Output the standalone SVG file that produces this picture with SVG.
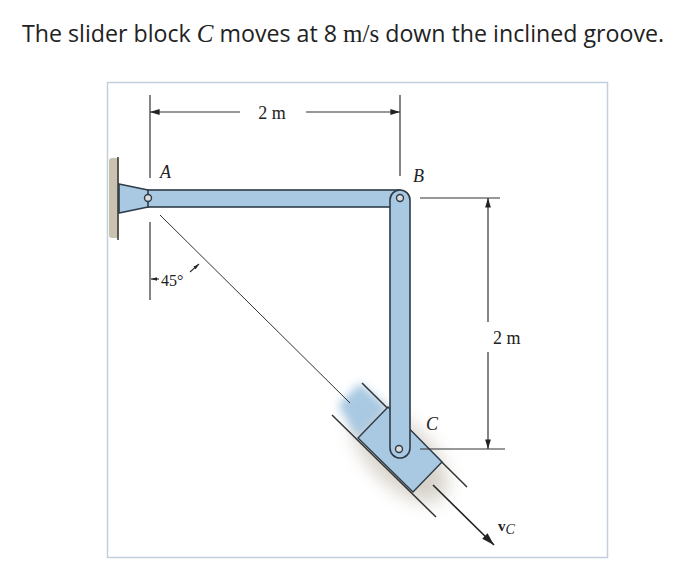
<svg xmlns="http://www.w3.org/2000/svg" width="700" height="572" viewBox="0 0 700 572">
<style>
.t{font-family:"Liberation Serif",serif;fill:#222}
.i{font-style:italic}
.dim{stroke:#333;stroke-width:1.2;fill:none}
.bar{fill:#a9c9e2;stroke:#2d3b48;stroke-width:1.6}
</style>
<defs>
<marker id="ar" viewBox="0 0 10 10" refX="10" refY="5" markerWidth="8" markerHeight="8" orient="auto-start-reverse"><path d="M0,2 L10,5 L0,8 z" fill="#222"/></marker>
<marker id="sm" viewBox="0 0 10 10" refX="10" refY="5" markerWidth="5" markerHeight="5" orient="auto-start-reverse"><path d="M0,2 L10,5 L0,8 z" fill="#222"/></marker>
<filter id="bl" x="-50%" y="-50%" width="200%" height="200%"><feGaussianBlur stdDeviation="9"/></filter>
<filter id="bl2" x="-50%" y="-50%" width="200%" height="200%"><feGaussianBlur stdDeviation="4"/></filter>
</defs>
<rect width="700" height="572" fill="#fff"/>
<text x="22" y="42" font-family="'Open Sans','Liberation Sans',sans-serif" font-size="23.2" fill="#222">The slider block <tspan font-family="'Liberation Serif',serif" font-style="italic" font-size="25">C</tspan> moves at 8 <tspan font-family="'Liberation Serif',serif" font-size="25">m/s</tspan> down the inclined groove.</text>
<rect x="107.5" y="82.5" width="500" height="475" fill="#fff" stroke="#c4cfdc" stroke-width="1.5"/>

<g id="groove">
<ellipse cx="400" cy="455" rx="60" ry="30" transform="rotate(45 400 455)" fill="#9a8f7a" opacity="0.4" filter="url(#bl)"/>
<path d="M338,405 L360,383 L388,408 L358,438 Z" fill="#a9c9e2" filter="url(#bl2)"/>
<line x1="362" y1="383" x2="467" y2="487" stroke="#333" stroke-width="1.5"/>
<line x1="332" y1="415" x2="436" y2="517" stroke="#333" stroke-width="1.5"/>
<line x1="160" y1="215" x2="350" y2="403" stroke="#333" stroke-width="1"/>
</g>
<g id="slider">
<path d="M358,438 L388,407 L442,462 L413,492 Z" fill="#a9c9e2" stroke="#2d3b48" stroke-width="1.4"/>
</g>
<g id="support">
<rect x="109" y="158" width="10" height="80" rx="3" fill="#c9c2b0"/>
<line x1="118" y1="157" x2="118" y2="240" stroke="#333" stroke-width="1.5"/>
<path d="M119,184 L148,190 A9,9 0 0 1 148,207 L119,213 Z" class="bar"/>
</g>
<g id="AB"><rect x="148" y="190" width="252" height="17" class="bar"/></g>
<g id="BC"><rect x="390" y="190" width="20" height="268" rx="10" class="bar"/></g>
<g id="pins" fill="#ddd" stroke="#2d3b48" stroke-width="1.4">
<circle cx="148" cy="198" r="3.5"/><circle cx="400" cy="198" r="3.5"/><circle cx="399" cy="449" r="3.5"/>
</g>
<g id="connectors">
<line x1="150" y1="95" x2="150" y2="178" class="dim"/>
<line x1="150" y1="222" x2="150" y2="300" class="dim"/>
<line x1="400" y1="95" x2="400" y2="176" class="dim"/>
<line x1="150" y1="112" x2="240" y2="112" class="dim" marker-start="url(#ar)"/>
<line x1="306" y1="112" x2="400" y2="112" class="dim" marker-end="url(#ar)"/>
<line x1="420" y1="198" x2="500" y2="198" class="dim"/>
<line x1="420" y1="449" x2="505" y2="449" class="dim"/>
<line x1="488" y1="198" x2="488" y2="322" class="dim" marker-start="url(#ar)"/>
<line x1="488" y1="352" x2="488" y2="449" class="dim" marker-end="url(#ar)"/>
<line x1="151" y1="279" x2="159" y2="279" class="dim" marker-start="url(#sm)"/>
<path d="M190,272 L199,264" class="dim" marker-end="url(#sm)"/>
<line x1="433" y1="485" x2="494" y2="545" stroke="#222" stroke-width="1.6" marker-end="url(#ar)"/>
</g>
<g id="labels">
<text x="272" y="119" class="t" font-size="18" text-anchor="middle">2 m</text>
<text x="493" y="344" class="t" font-size="18">2 m</text>
<text x="160" y="178" class="t i" font-size="18">A</text>
<text x="413" y="182" class="t i" font-size="18">B</text>
<text x="426" y="430" class="t i" font-size="18">C</text>
<text x="161" y="286" class="t" font-size="16" font-family="'Liberation Sans',sans-serif">45°</text>
<text x="498" y="531" class="t" font-size="15" font-weight="bold">v<tspan font-style="italic" font-weight="normal" font-size="14" dy="3">C</tspan></text>
</g>
</svg>
